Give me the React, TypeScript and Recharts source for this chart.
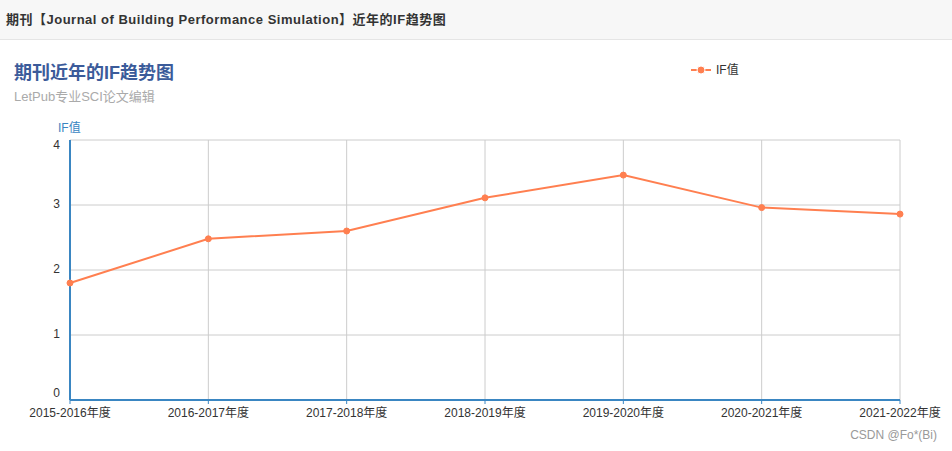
import React from "react";
import { LineChart, Line, XAxis, YAxis, CartesianGrid } from "recharts";

const years = [
  "2015-2016年度",
  "2016-2017年度",
  "2017-2018年度",
  "2018-2019年度",
  "2019-2020年度",
  "2020-2021年度",
  "2021-2022年度",
];
const ifValues = [1.8, 2.48, 2.6, 3.11, 3.46, 2.96, 2.86];
const yTicks = [0, 1, 2, 3, 4];

const chartData = years.map((year, i) => ({ year, value: ifValues[i] }));

const FONT = "Arial, 'Liberation Sans', 'Noto Sans CJK SC', sans-serif";
const LINE_COLOR = "#ff7f50";
const AXIS_COLOR = "#3a86c2";

function YTick(props: any) {
  const { x, y, payload } = props;
  let shift = -1;
  if (payload.value === 4) shift = 5;
  if (payload.value === 0) shift = -7;
  return (
    <text
      x={x - 2}
      y={y + shift}
      dy="0.35em"
      textAnchor="end"
      fontSize={12}
      fill="#333"
      fontFamily={FONT}
    >
      {payload.value}
    </text>
  );
}

export default function App() {
  return (
    <div
      style={{
        position: "absolute",
        left: 0,
        top: 0,
        width: 952,
        height: 451,
        background: "#fff",
        fontFamily: FONT,
        overflow: "hidden",
      }}
    >
      <style>{"body{margin:0}"}</style>
      <div
        style={{
          position: "absolute",
          left: 0,
          top: 0,
          width: 952,
          height: 40,
          background: "#f7f7f7",
          borderBottom: "1px solid #e5e5e5",
          boxSizing: "border-box",
          fontSize: 13,
          fontWeight: "bold",
          color: "#333",
          lineHeight: "39px",
          paddingLeft: 6,
          letterSpacing: 0.5,
        }}
      >
        期刊【Journal of Building Performance Simulation】近年的IF趋势图
      </div>
      <div
        style={{
          position: "absolute",
          left: 14,
          top: 61,
          fontSize: 18,
          fontWeight: "bold",
          color: "#3b5b9a",
          lineHeight: "24px",
        }}
      >
        期刊近年的IF趋势图
      </div>
      <div
        style={{
          position: "absolute",
          left: 14,
          top: 89,
          fontSize: 13,
          color: "#aaa",
          lineHeight: "16px",
        }}
      >
        LetPub专业SCI论文编辑
      </div>
      <div
        style={{
          position: "absolute",
          left: 690,
          top: 62,
          display: "flex",
          alignItems: "center",
          fontSize: 12,
          color: "#333",
          lineHeight: "16px",
        }}
      >
        <svg width={22} height={10} style={{ marginRight: 4 }}>
          <line x1={1} y1={5} x2={21} y2={5} stroke={LINE_COLOR} strokeWidth={2} />
          <circle cx={11} cy={5} r={4} fill={LINE_COLOR} stroke="#fff" strokeWidth={1} />
        </svg>
        <span>IF值</span>
      </div>
      <div
        style={{
          position: "absolute",
          left: 58,
          top: 120,
          fontSize: 12,
          color: AXIS_COLOR,
          lineHeight: "16px",
        }}
      >
        IF值
      </div>
      <div
        style={{
          position: "absolute",
          right: 15,
          top: 427,
          fontSize: 12,
          color: "#999",
          lineHeight: "16px",
        }}
      >
        CSDN @Fo*(Bi)
      </div>
      <div style={{ position: "absolute", left: 0, top: 0 }}>
        <LineChart
          width={952}
          height={451}
          data={chartData}
          margin={{ top: 140, right: 52, bottom: 21, left: 30 }}
        >
          <CartesianGrid stroke="#ccc" />
          <XAxis
            dataKey="year"
            interval={0}
            axisLine={{ stroke: AXIS_COLOR, strokeWidth: 2 }}
            tickLine={{ stroke: AXIS_COLOR }}
            tickSize={4}
            tickMargin={4}
            height={30}
            tick={{ fontSize: 12, fill: "#333", fontFamily: FONT }}
          />
          <YAxis
            domain={[0, 4]}
            ticks={yTicks}
            width={40}
            axisLine={{ stroke: AXIS_COLOR, strokeWidth: 2 }}
            tickLine={false}
            tick={<YTick />}
          />
          <Line
            type="linear"
            dataKey="value"
            name="IF值"
            stroke={LINE_COLOR}
            strokeWidth={2}
            dot={{ r: 3, fill: LINE_COLOR, stroke: LINE_COLOR, strokeWidth: 1 }}
            isAnimationActive={false}
          />
        </LineChart>
      </div>
    </div>
  );
}
